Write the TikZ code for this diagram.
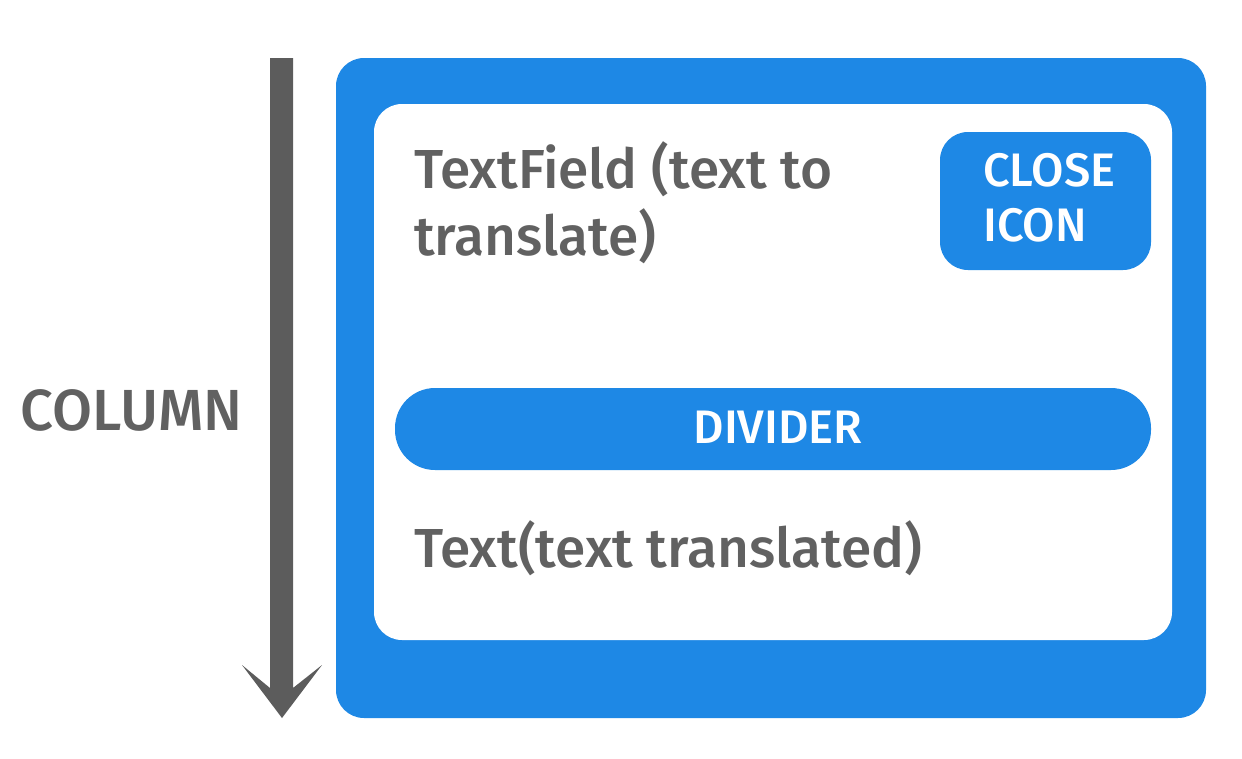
\documentclass[tikz,border=0pt]{standalone}
\usepackage{fontspec}
\setmainfont{Fira Sans Medium}
\definecolor{mblue}{HTML}{1E88E5}
\definecolor{mgray}{HTML}{616161}
\begin{document}
\begin{tikzpicture}[x=1pt,y=-1pt,
  lbl/.style={anchor=base west,inner sep=0,text=mgray,font=\fontsize{55}{66}\selectfont},
  wlbl/.style={inner sep=0,text=white,font=\fontsize{47}{56}\selectfont}]
\useasboundingbox (0,0) rectangle (1242,758);
\fill[mblue,rounded corners=28] (336,58) rectangle (1206,718);
\fill[white,rounded corners=28] (374,104) rectangle (1172,640);
\fill[mblue,rounded corners=28] (940,132) rectangle (1151,270);
\fill[mblue,rounded corners=40] (395,388) rectangle (1151,470);
\node[lbl] (t1) at (414,188) {TextField (text to};
\node[lbl] (t2) at (414,255) {translate)};
\node[lbl] (t3) at (414,567) {Text(text translated)};
\node[lbl,font=\fontsize{58}{70}\selectfont] (col) at (20,430) {COLUMN};
\node[wlbl,anchor=base west] (c1) at (983,186) {CLOSE};
\node[wlbl,anchor=base west] (c2) at (983,241) {ICON};
\node[wlbl,anchor=base] (dv) at (778,443) {DIVIDER};
\fill[mgray!95!black] (270,58) -- (293,58) -- (293,688) -- (322,665) -- (282,718) -- (242,665) -- (270,688) -- cycle;
\end{tikzpicture}
\end{document}
